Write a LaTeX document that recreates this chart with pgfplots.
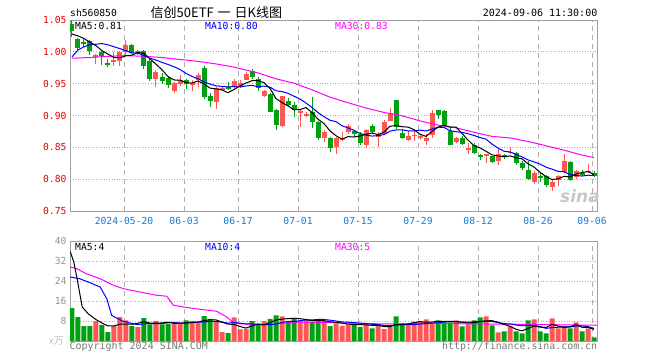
\documentclass[border=0pt]{standalone}
\usepackage{pgfplots}
\pgfplotsset{compat=1.18}
\usepackage{pgfplotstable}
\usepackage{fontspec}
\setmainfont{DejaVu Sans Mono}
\newfontfamily\cjk{Noto Sans CJK SC}
\newfontfamily\sansb{DejaVu Sans}
\definecolor{cup}{RGB}{255,85,85}
\definecolor{cdn}{RGB}{0,160,16}
\definecolor{cgrid}{RGB}{175,175,175}
\definecolor{cframe}{RGB}{160,160,160}
\definecolor{cred}{RGB}{230,0,0}
\definecolor{cdate}{RGB}{20,120,210}
\definecolor{cma10}{RGB}{0,0,255}
\definecolor{cma30}{RGB}{255,0,255}
\definecolor{ctxt}{RGB}{120,120,120}
\newcommand{\fs}{\fontsize{9.7bp}{11bp}\selectfont}

\pgfplotstableread{
i O H L C V
4 0.993 0.997 0.981 0.995 8.0
7 0.984 0.999 0.977 0.987 6.0
8 0.985 1.002 0.978 0.999 9.6
9 0.999 1.018 0.994 1.011 8.3
11 0.997 1.003 0.995 1.001 5.6
14 0.957 0.972 0.945 0.969 8.0
17 0.939 0.953 0.936 0.951 6.9
18 0.950 0.963 0.947 0.956 7.3
20 0.949 0.955 0.938 0.951 8.0
21 0.956 0.966 0.945 0.964 7.3
24 0.921 0.944 0.910 0.943 8.0
25 0.941 0.946 0.941 0.943 3.6
27 0.944 0.957 0.940 0.954 9.5
28 0.945 0.955 0.943 0.951 4.7
29 0.956 0.968 0.955 0.965 4.9
32 0.930 0.940 0.929 0.938 8.0
35 0.884 0.930 0.882 0.930 9.9
38 0.905 0.910 0.882 0.907 8.0
39 0.899 0.906 0.898 0.902 8.5
42 0.864 0.877 0.858 0.874 8.0
44 0.850 0.867 0.839 0.864 7.1
45 0.861 0.874 0.860 0.864 6.1
46 0.874 0.886 0.871 0.883 6.7
49 0.854 0.879 0.851 0.877 6.7
51 0.866 0.874 0.850 0.871 6.7
52 0.871 0.893 0.870 0.890 4.8
53 0.892 0.912 0.891 0.904 5.7
56 0.861 0.875 0.860 0.868 6.7
57 0.868 0.875 0.860 0.870 7.7
58 0.866 0.871 0.861 0.868 7.7
59 0.860 0.871 0.854 0.865 8.7
60 0.869 0.908 0.865 0.904 7.1
64 0.858 0.866 0.857 0.865 8.3
66 0.847 0.857 0.839 0.848 6.7
69 0.836 0.840 0.826 0.839 9.9
71 0.828 0.849 0.823 0.839 3.5
73 0.841 0.850 0.839 0.843 5.9
77 0.795 0.813 0.793 0.809 8.7
80 0.787 0.798 0.781 0.795 9.1
81 0.798 0.806 0.789 0.805 5.1
82 0.811 0.839 0.809 0.829 5.9
84 0.803 0.814 0.801 0.813 7.5
86 0.812 0.824 0.810 0.813 5.1
}\upT

\pgfplotstableread{
i O H L C V
0 1.043 1.050 1.023 1.032 13.2
1 1.020 1.021 1.002 1.006 9.6
2 1.015 1.020 1.008 1.014 6.0
3 1.017 1.019 0.995 1.001 6.0
5 0.999 1.002 0.980 0.993 6.5
6 0.983 0.988 0.976 0.979 3.6
10 1.010 1.012 0.996 0.998 6.0
12 1.002 1.003 0.973 0.978 9.2
13 0.986 0.988 0.954 0.957 6.7
15 0.961 0.967 0.949 0.954 6.7
16 0.959 0.962 0.943 0.948 6.9
19 0.956 0.957 0.942 0.949 8.3
22 0.975 0.977 0.926 0.929 10.0
23 0.930 0.936 0.913 0.922 8.9
26 0.944 0.952 0.940 0.942 3.2
30 0.970 0.973 0.958 0.961 8.0
31 0.957 0.960 0.938 0.943 6.7
33 0.933 0.936 0.905 0.906 8.9
34 0.909 0.910 0.878 0.885 10.3
36 0.923 0.928 0.913 0.916 7.6
37 0.917 0.921 0.898 0.908 8.9
40 0.905 0.929 0.881 0.890 7.6
41 0.890 0.891 0.862 0.864 8.5
43 0.865 0.867 0.843 0.849 6.0
47 0.876 0.877 0.867 0.871 7.1
48 0.871 0.874 0.854 0.857 5.7
50 0.883 0.887 0.871 0.874 5.1
54 0.925 0.925 0.879 0.882 9.9
55 0.873 0.879 0.863 0.865 6.7
61 0.908 0.909 0.895 0.901 8.3
62 0.907 0.908 0.881 0.885 7.7
63 0.875 0.882 0.853 0.854 7.5
65 0.865 0.868 0.853 0.855 5.9
67 0.854 0.857 0.840 0.841 8.3
68 0.838 0.839 0.830 0.836 9.5
70 0.836 0.837 0.826 0.827 6.3
72 0.838 0.840 0.832 0.835 3.9
74 0.841 0.843 0.823 0.825 3.9
75 0.825 0.828 0.815 0.818 3.1
76 0.814 0.828 0.798 0.800 8.3
78 0.805 0.812 0.796 0.802 3.9
79 0.805 0.806 0.787 0.791 3.1
83 0.827 0.828 0.797 0.798 5.1
85 0.810 0.814 0.805 0.807 3.9
87 0.810 0.813 0.804 0.805 1.5
}\dnT

\pgfplotsset{
  kline/.style={
    scale only axis, width=527bp,
    xmin=-0.333, xmax=87.5,
    axis line style={draw=cframe, line width=1bp},
    major tick length=0pt,
    xtick={8.67,18.67,27.67,37.67,47.67,57.67,67.67,77.67,86.67},
    xmajorgrids, ymajorgrids,
    x grid style={draw=cgrid, line width=0.9bp, dash pattern=on 5.5bp off 3.5bp},
    y grid style={draw=cgrid, line width=0.9bp, dash pattern=on 1bp off 1.6bp},
  },
  wick/.style={draw=none, mark=none, forget plot,
    error bars/.cd, y dir=both, y explicit, error mark=none,
    error bar style={draw=#1, line width=1bp}},
  body/.style={draw=none, mark=none, forget plot,
    error bars/.cd, y dir=both, y explicit, error mark=none,
    error bar style={draw=#1, line width=5bp}},
}

\begin{document}
\begin{tikzpicture}
\path[use as bounding box] (0,0) rectangle (660bp,-360bp);

% ---------------- price panel ----------------
\begin{axis}[kline,
  at={(70bp,-20bp)}, anchor=north west, height=191bp,
  ymin=0.75, ymax=1.05,
  xticklabels={2024-05-20,06-03,06-17,07-01,07-15,07-29,08-12,08-26,09-06},
  ytick={0.75,0.80,0.85,0.90,0.95,1.00,1.05},
  yticklabels={0.75,0.80,0.85,0.90,0.95,1.00,1.05},
  xticklabel style={font=\fs, text=cdate, yshift=-2.8bp},
  yticklabel style={font=\fs, text=cred},
]
\addplot[wick=cup] table[x=i, y expr={(\thisrow{H}+\thisrow{L})/2}, y error expr={(\thisrow{H}-\thisrow{L})/2}] {\upT};
\addplot[body=cup] table[x=i, y expr={(\thisrow{O}+\thisrow{C})/2}, y error expr={max(abs(\thisrow{C}-\thisrow{O})/2,0.0008)}] {\upT};
\addplot[wick=cdn] table[x=i, y expr={(\thisrow{H}+\thisrow{L})/2}, y error expr={(\thisrow{H}-\thisrow{L})/2}] {\dnT};
\addplot[body=cdn] table[x=i, y expr={(\thisrow{O}+\thisrow{C})/2}, y error expr={max(abs(\thisrow{C}-\thisrow{O})/2,0.0008)}] {\dnT};
% MA30
\addplot[cma30, line width=1bp, mark=none] coordinates {(0,0.990)(3,0.991)(6,0.993)(9,0.994)(12,0.993)(15,0.991)(18,0.988)(21,0.985)(24,0.981)(27,0.976)(29,0.9714)(31,0.9669)(34,0.9576)(37,0.9507)(40,0.9404)(43,0.9288)(46,0.9201)(49,0.9118)(52,0.9048)(55,0.8996)(58,0.8915)(61,0.8849)(64,0.8807)(67,0.8737)(70,0.8672)(73,0.8648)(76,0.8592)(79,0.8525)(82,0.8456)(85,0.8378)(87,0.8338)};
% MA10
\addplot[cma10, line width=1bp, mark=none] coordinates {(0,0.992)(1,1.003)(2,1.008)(3,1.011)(4,1.012)(5,1.013)(6,1.011)(7,1.008)(8,1.005)(9,1.0017)(10,0.9983)(11,0.9978)(12,0.9942)(13,0.9898)(14,0.9872)(15,0.9833)(16,0.9802)(17,0.9766)(18,0.9723)(19,0.9661)(20,0.9614)(21,0.9577)(22,0.9528)(23,0.9493)(24,0.9467)(25,0.9456)(26,0.945)(27,0.9453)(28,0.9448)(29,0.9464)(30,0.9474)(31,0.9453)(32,0.9462)(33,0.9446)(34,0.9388)(35,0.9375)(36,0.9349)(37,0.9303)(38,0.9259)(39,0.9196)(40,0.9125)(41,0.9046)(42,0.8982)(43,0.8925)(44,0.8904)(45,0.8838)(46,0.8805)(47,0.8768)(48,0.8718)(49,0.8693)(50,0.8677)(51,0.8684)(52,0.870)(53,0.8755)(54,0.8773)(55,0.8774)(56,0.8759)(57,0.8758)(58,0.8769)(59,0.8757)(60,0.8787)(61,0.8817)(62,0.8812)(63,0.8762)(64,0.8745)(65,0.8735)(66,0.8715)(67,0.8686)(68,0.8654)(69,0.8628)(70,0.8551)(71,0.8489)(72,0.8439)(73,0.8428)(74,0.8388)(75,0.8351)(76,0.8303)(77,0.8271)(78,0.8237)(79,0.8189)(80,0.8157)(81,0.8123)(82,0.8117)(83,0.8072)(84,0.806)(85,0.8049)(86,0.8062)(87,0.8058)};
% MA5
\addplot[black, line width=1bp, mark=none] coordinates {(0,1.028)(1,1.025)(2,1.021)(3,1.015)(4,1.0096)(5,1.0018)(6,0.9964)(7,0.991)(8,0.9906)(9,0.9938)(10,0.9948)(11,0.9992)(12,0.9974)(13,0.989)(14,0.9806)(15,0.9718)(16,0.9612)(17,0.9558)(18,0.9556)(19,0.9516)(20,0.951)(21,0.9542)(22,0.9498)(23,0.943)(24,0.9418)(25,0.9402)(26,0.9358)(27,0.9408)(28,0.9466)(29,0.951)(30,0.9546)(31,0.9548)(32,0.9516)(33,0.9426)(34,0.9266)(35,0.9204)(36,0.915)(37,0.909)(38,0.9092)(39,0.9126)(40,0.9046)(41,0.8942)(42,0.8874)(43,0.8758)(44,0.8682)(45,0.863)(46,0.8668)(47,0.8662)(48,0.8678)(49,0.8704)(50,0.8724)(51,0.870)(52,0.8738)(53,0.8832)(54,0.8842)(55,0.8824)(56,0.8818)(57,0.8778)(58,0.8706)(59,0.8672)(60,0.875)(61,0.8816)(62,0.8846)(63,0.8818)(64,0.8818)(65,0.872)(66,0.8614)(67,0.8526)(68,0.849)(69,0.8438)(70,0.8382)(71,0.8364)(72,0.8352)(73,0.8366)(74,0.8338)(75,0.832)(76,0.8242)(77,0.819)(78,0.8108)(79,0.804)(80,0.7994)(81,0.8004)(82,0.8044)(83,0.8036)(84,0.808)(85,0.8104)(86,0.812)(87,0.8072)};
\end{axis}

% ---------------- volume panel ----------------
\begin{axis}[kline,
  at={(70bp,-241bp)}, anchor=north west, height=100bp,
  ymin=0, ymax=40,
  xticklabels={},
  ytick={8,16,24,32,40},
  yticklabels={8,16,24,32,40},
  yticklabel style={font=\fs, text=ctxt!80},
]
\addplot[ybar, bar width=5bp, bar shift=0pt, fill=cup, draw=none, forget plot] table[x=i, y=V] {\upT};
\addplot[ybar, bar width=5bp, bar shift=0pt, fill=cdn, draw=none, forget plot] table[x=i, y=V] {\dnT};
\addplot[cma30, line width=1bp, mark=none] coordinates {(-0.3,29.6)(0.8,28.9)(2.4,26.9)(4.7,24.9)(6.9,22.3)(8.6,20.9)(11.3,19.6)(14.1,18.3)(15.8,17.9)(16.9,14.3)(18.6,13.6)(21.3,12.7)(24.1,11.9)(25.8,9.6)(26.9,7.3)(28,6.9)(31.3,6.5)(34.1,6.9)(38,7.6)(43,7.4)(50.8,6.9)(55.8,6.9)(59.7,7.2)(64.7,6.9)(74.1,6.7)(87.5,6.3)};
\addplot[cma10, line width=1bp, mark=none] coordinates {(-0.3,25.6)(1.3,24.9)(3,23.3)(4.7,21.6)(5.8,16.9)(6.6,10.3)(7.4,9.2)(8.6,7.8)(9,7.68)(10,6.96)(11,6.56)(12,6.88)(13,6.95)(14,6.95)(15,6.97)(16,7.3)(17,7.39)(18,7.16)(19,7.16)(20,7.36)(21,7.53)(22,7.61)(23,7.83)(24,7.83)(25,7.52)(26,7.15)(27,7.41)(28,7.15)(29,6.81)(30,6.81)(31,6.75)(32,6.55)(33,6.55)(34,6.78)(35,7.41)(36,7.85)(37,7.79)(38,8.12)(39,8.48)(40,8.44)(41,8.62)(42,8.62)(43,8.33)(44,8.01)(45,7.63)(46,7.54)(47,7.36)(48,7.13)(49,6.95)(50,6.7)(51,6.52)(52,6.2)(53,6.17)(54,6.45)(55,6.51)(56,6.51)(57,6.57)(58,6.77)(59,6.97)(60,7.17)(61,7.33)(62,7.62)(63,7.8)(64,7.64)(65,7.56)(66,7.56)(67,7.62)(68,7.8)(69,7.92)(70,7.84)(71,7.36)(72,6.98)(73,6.82)(74,6.38)(75,6.1)(76,6.26)(77,6.3)(78,5.74)(79,5.06)(80,5.34)(81,5.5)(82,5.7)(83,5.62)(84,5.98)(85,6.06)(86,5.74)(87,5.02)};
\addplot[black, line width=1bp, mark=none] coordinates {(-0.3,35.8)(0.3,31.6)(0.9,24.3)(1.7,13.6)(2.7,10.9)(4,8.56)(5,7.22)(6,6.02)(7,6.02)(8,6.74)(9,6.8)(10,6.7)(11,7.1)(12,7.74)(13,7.16)(14,7.1)(15,7.24)(16,7.5)(17,7.04)(18,7.16)(19,7.22)(20,7.48)(21,7.56)(22,8.18)(23,8.5)(24,8.44)(25,7.56)(26,6.74)(27,6.64)(28,5.8)(29,5.18)(30,6.06)(31,6.76)(32,6.46)(33,7.3)(34,8.38)(35,8.76)(36,8.94)(37,9.12)(38,8.94)(39,8.58)(40,8.12)(41,8.3)(42,8.12)(43,7.72)(44,7.44)(45,7.14)(46,6.78)(47,6.6)(48,6.54)(49,6.46)(50,6.26)(51,6.26)(52,5.8)(53,5.8)(54,6.44)(55,6.76)(56,6.76)(57,7.34)(58,7.74)(59,7.5)(60,7.58)(61,7.9)(62,7.9)(63,7.86)(64,7.78)(65,7.54)(66,7.22)(67,7.34)(68,7.74)(69,8.06)(70,8.14)(71,7.5)(72,6.62)(73,5.9)(74,4.7)(75,4.06)(76,5.02)(77,5.98)(78,5.58)(79,5.42)(80,6.62)(81,5.98)(82,5.42)(83,5.66)(84,6.54)(85,5.5)(86,5.5)(87,4.62)};
\end{axis}

% ---------------- texts ----------------
\node[anchor=base west, inner sep=0, font=\fs] at (70bp,-16.7bp) {sh560850};
\node[anchor=west, inner sep=0, font=\cjk\fontsize{13bp}{14bp}\selectfont] at (150.5bp,-12.8bp) {信创50ETF\hspace{4bp}一\hspace{4bp}日K线图};
\node[anchor=base east, inner sep=0, font=\fontsize{10bp}{11bp}\selectfont] at (597.5bp,-16.7bp) {2024-09-06 11:30:00};
\node[anchor=base west, inner sep=0, font=\fs, text=black] at (75bp,-29.3bp) {MA5:0.81};
\node[anchor=base west, inner sep=0, font=\fs, text=cma10] at (205bp,-29.3bp) {MA10:0.80};
\node[anchor=base west, inner sep=0, font=\fs, text=cma30] at (335bp,-29.3bp) {MA30:0.83};
\node[anchor=base west, inner sep=0, font=\fs, text=black] at (75bp,-250bp) {MA5:4};
\node[anchor=base west, inner sep=0, font=\fs, text=cma10] at (205bp,-250bp) {MA10:4};
\node[anchor=base west, inner sep=0, font=\fs, text=cma30] at (335bp,-250bp) {MA30:5};
\node[anchor=base west, inner sep=0, font=\fontsize{10bp}{11bp}\selectfont, text=ctxt] at (69.3bp,-349bp) {Copyright 2024 SINA.COM};
\node[anchor=base east, inner sep=0, font=\fontsize{9.9bp}{11bp}\selectfont, text=ctxt] at (597.3bp,-349bp) {http://finance.sina.com.cn};
\node[anchor=base east, inner sep=0, font=\cjk\itshape\fontsize{10bp}{11bp}\selectfont, text=black!25] at (64bp,-344.5bp) {x万};
\node[inner sep=0, font=\sansb\bfseries\itshape\fontsize{17bp}{18bp}\selectfont, text=black!22] at (580bp,-196bp) {sina};
\end{tikzpicture}
\end{document}
